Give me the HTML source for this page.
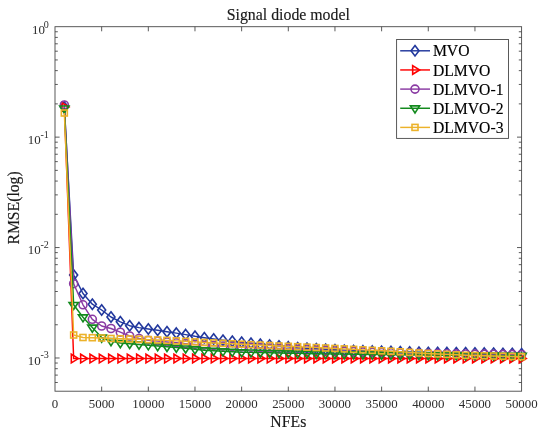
<!DOCTYPE html>
<html><head><meta charset="utf-8"><title>Signal diode model</title>
<style>html,body{margin:0;padding:0;background:#fff}svg{display:block}text{font-family:"Liberation Serif",serif;fill:#1a1a1a;stroke:#1a1a1a;stroke-width:0.15px}text.t{fill:#2e2e2e;stroke:none}</style></head>
<body>
<svg width="550" height="434" viewBox="0 0 550 434">
<rect width="550" height="434" fill="#fff"/>
<rect x="55.0" y="26.7" width="466.60" height="364.50" fill="none" stroke="#484848" stroke-width="0.9"/>
<text x="55.00" y="408.0" font-size="12.9" class="t" text-anchor="middle">0</text>
<text x="101.66" y="408.0" font-size="12.9" class="t" text-anchor="middle">5000</text>
<text x="148.32" y="408.0" font-size="12.9" class="t" text-anchor="middle">10000</text>
<text x="194.98" y="408.0" font-size="12.9" class="t" text-anchor="middle">15000</text>
<text x="241.64" y="408.0" font-size="12.9" class="t" text-anchor="middle">20000</text>
<text x="288.30" y="408.0" font-size="12.9" class="t" text-anchor="middle">25000</text>
<text x="334.96" y="408.0" font-size="12.9" class="t" text-anchor="middle">30000</text>
<text x="381.62" y="408.0" font-size="12.9" class="t" text-anchor="middle">35000</text>
<text x="428.28" y="408.0" font-size="12.9" class="t" text-anchor="middle">40000</text>
<text x="474.94" y="408.0" font-size="12.9" class="t" text-anchor="middle">45000</text>
<text x="521.60" y="408.0" font-size="12.9" class="t" text-anchor="middle">50000</text>
<text class="t" text-anchor="end"><tspan x="44.9" y="33.60" font-size="12.9">10</tspan><tspan x="48.9" y="28.00" font-size="10.1">0</tspan></text>
<text class="t" text-anchor="end"><tspan x="40.6" y="144.03" font-size="12.9">10</tspan><tspan x="48.9" y="138.13" font-size="10.1">-1</tspan></text>
<text class="t" text-anchor="end"><tspan x="40.6" y="253.76" font-size="12.9">10</tspan><tspan x="48.9" y="248.16" font-size="10.1">-2</tspan></text>
<text class="t" text-anchor="end"><tspan x="40.6" y="364.79" font-size="12.9">10</tspan><tspan x="48.9" y="358.19" font-size="10.1">-3</tspan></text>
<path d="M101.66 391.2v-4.6M101.66 26.7v4.6M148.32 391.2v-4.6M148.32 26.7v4.6M194.98 391.2v-4.6M194.98 26.7v4.6M241.64 391.2v-4.6M241.64 26.7v4.6M288.30 391.2v-4.6M288.30 26.7v4.6M334.96 391.2v-4.6M334.96 26.7v4.6M381.62 391.2v-4.6M381.62 26.7v4.6M428.28 391.2v-4.6M428.28 26.7v4.6M474.94 391.2v-4.6M474.94 26.7v4.6M55.0 103.89h2.8M521.6 103.89h-2.8M55.0 84.44h2.8M521.6 84.44h-2.8M55.0 70.64h2.8M521.6 70.64h-2.8M55.0 59.94h2.8M521.6 59.94h-2.8M55.0 51.20h2.8M521.6 51.20h-2.8M55.0 43.81h2.8M521.6 43.81h-2.8M55.0 37.40h2.8M521.6 37.40h-2.8M55.0 31.75h2.8M521.6 31.75h-2.8M55.0 137.13h4.6M521.6 137.13h-4.6M55.0 214.32h2.8M521.6 214.32h-2.8M55.0 194.87h2.8M521.6 194.87h-2.8M55.0 181.07h2.8M521.6 181.07h-2.8M55.0 170.37h2.8M521.6 170.37h-2.8M55.0 161.63h2.8M521.6 161.63h-2.8M55.0 154.24h2.8M521.6 154.24h-2.8M55.0 147.83h2.8M521.6 147.83h-2.8M55.0 142.18h2.8M521.6 142.18h-2.8M55.0 247.56h4.6M521.6 247.56h-4.6M55.0 324.75h2.8M521.6 324.75h-2.8M55.0 305.30h2.8M521.6 305.30h-2.8M55.0 291.50h2.8M521.6 291.50h-2.8M55.0 280.80h2.8M521.6 280.80h-2.8M55.0 272.06h2.8M521.6 272.06h-2.8M55.0 264.67h2.8M521.6 264.67h-2.8M55.0 258.26h2.8M521.6 258.26h-2.8M55.0 252.61h2.8M521.6 252.61h-2.8M55.0 357.99h4.6M521.6 357.99h-4.6M55.0 382.49h2.8M521.6 382.49h-2.8M55.0 375.10h2.8M521.6 375.10h-2.8M55.0 368.69h2.8M521.6 368.69h-2.8M55.0 363.04h2.8M521.6 363.04h-2.8" stroke="#484848" stroke-width="0.9" fill="none"/>
<text x="288.30" y="19.8" font-size="15.85" text-anchor="middle">Signal diode model</text>
<text x="288.30" y="426.6" font-size="15.8" text-anchor="middle">NFEs</text>
<text transform="translate(18.5 207.95) rotate(-90)" font-size="15.7" text-anchor="middle">RMSE(log)</text>
<g><polyline points="64.33,107.10 73.66,275.00 83.00,293.50 92.33,304.20 101.66,310.00 110.99,317.00 120.32,321.80 129.66,325.70 138.99,327.60 148.32,329.00 157.65,330.30 166.98,331.70 176.32,333.10 185.65,334.60 194.98,336.30 204.31,337.70 213.64,339.00 222.98,340.20 232.31,341.30 241.64,342.30 250.97,343.23 260.30,344.15 269.64,345.07 278.97,346.00 288.30,346.85 297.63,347.70 306.96,348.20 316.30,348.70 325.63,349.20 334.96,349.70 344.29,350.15 353.62,350.60 362.96,350.84 372.29,351.08 381.62,351.32 390.95,351.56 400.28,351.80 409.62,352.05 418.95,352.30 428.28,352.40 437.61,352.50 446.94,352.60 456.28,352.70 465.61,352.80 474.94,352.95 484.27,353.10 493.60,353.25 502.94,353.40 512.27,353.55 521.60,353.70" fill="none" stroke="#22389d" stroke-width="1.45" stroke-linejoin="round"/>
<path d="M64.33 101.90L68.33 107.10L64.33 112.30L60.33 107.10Z" fill="none" stroke="#22389d" stroke-width="1.5999999999999999" stroke-linejoin="miter"/>
<path d="M73.66 269.80L77.66 275.00L73.66 280.20L69.66 275.00Z" fill="none" stroke="#22389d" stroke-width="1.5999999999999999" stroke-linejoin="miter"/>
<path d="M83.00 288.30L87.00 293.50L83.00 298.70L79.00 293.50Z" fill="none" stroke="#22389d" stroke-width="1.5999999999999999" stroke-linejoin="miter"/>
<path d="M92.33 299.00L96.33 304.20L92.33 309.40L88.33 304.20Z" fill="none" stroke="#22389d" stroke-width="1.5999999999999999" stroke-linejoin="miter"/>
<path d="M101.66 304.80L105.66 310.00L101.66 315.20L97.66 310.00Z" fill="none" stroke="#22389d" stroke-width="1.5999999999999999" stroke-linejoin="miter"/>
<path d="M110.99 311.80L114.99 317.00L110.99 322.20L106.99 317.00Z" fill="none" stroke="#22389d" stroke-width="1.5999999999999999" stroke-linejoin="miter"/>
<path d="M120.32 316.60L124.32 321.80L120.32 327.00L116.32 321.80Z" fill="none" stroke="#22389d" stroke-width="1.5999999999999999" stroke-linejoin="miter"/>
<path d="M129.66 320.50L133.66 325.70L129.66 330.90L125.66 325.70Z" fill="none" stroke="#22389d" stroke-width="1.5999999999999999" stroke-linejoin="miter"/>
<path d="M138.99 322.40L142.99 327.60L138.99 332.80L134.99 327.60Z" fill="none" stroke="#22389d" stroke-width="1.5999999999999999" stroke-linejoin="miter"/>
<path d="M148.32 323.80L152.32 329.00L148.32 334.20L144.32 329.00Z" fill="none" stroke="#22389d" stroke-width="1.5999999999999999" stroke-linejoin="miter"/>
<path d="M157.65 325.10L161.65 330.30L157.65 335.50L153.65 330.30Z" fill="none" stroke="#22389d" stroke-width="1.5999999999999999" stroke-linejoin="miter"/>
<path d="M166.98 326.50L170.98 331.70L166.98 336.90L162.98 331.70Z" fill="none" stroke="#22389d" stroke-width="1.5999999999999999" stroke-linejoin="miter"/>
<path d="M176.32 327.90L180.32 333.10L176.32 338.30L172.32 333.10Z" fill="none" stroke="#22389d" stroke-width="1.5999999999999999" stroke-linejoin="miter"/>
<path d="M185.65 329.40L189.65 334.60L185.65 339.80L181.65 334.60Z" fill="none" stroke="#22389d" stroke-width="1.5999999999999999" stroke-linejoin="miter"/>
<path d="M194.98 331.10L198.98 336.30L194.98 341.50L190.98 336.30Z" fill="none" stroke="#22389d" stroke-width="1.5999999999999999" stroke-linejoin="miter"/>
<path d="M204.31 332.50L208.31 337.70L204.31 342.90L200.31 337.70Z" fill="none" stroke="#22389d" stroke-width="1.5999999999999999" stroke-linejoin="miter"/>
<path d="M213.64 333.80L217.64 339.00L213.64 344.20L209.64 339.00Z" fill="none" stroke="#22389d" stroke-width="1.5999999999999999" stroke-linejoin="miter"/>
<path d="M222.98 335.00L226.98 340.20L222.98 345.40L218.98 340.20Z" fill="none" stroke="#22389d" stroke-width="1.5999999999999999" stroke-linejoin="miter"/>
<path d="M232.31 336.10L236.31 341.30L232.31 346.50L228.31 341.30Z" fill="none" stroke="#22389d" stroke-width="1.5999999999999999" stroke-linejoin="miter"/>
<path d="M241.64 337.10L245.64 342.30L241.64 347.50L237.64 342.30Z" fill="none" stroke="#22389d" stroke-width="1.5999999999999999" stroke-linejoin="miter"/>
<path d="M250.97 338.03L254.97 343.23L250.97 348.43L246.97 343.23Z" fill="none" stroke="#22389d" stroke-width="1.5999999999999999" stroke-linejoin="miter"/>
<path d="M260.30 338.95L264.30 344.15L260.30 349.35L256.30 344.15Z" fill="none" stroke="#22389d" stroke-width="1.5999999999999999" stroke-linejoin="miter"/>
<path d="M269.64 339.88L273.64 345.07L269.64 350.27L265.64 345.07Z" fill="none" stroke="#22389d" stroke-width="1.5999999999999999" stroke-linejoin="miter"/>
<path d="M278.97 340.80L282.97 346.00L278.97 351.20L274.97 346.00Z" fill="none" stroke="#22389d" stroke-width="1.5999999999999999" stroke-linejoin="miter"/>
<path d="M288.30 341.65L292.30 346.85L288.30 352.05L284.30 346.85Z" fill="none" stroke="#22389d" stroke-width="1.5999999999999999" stroke-linejoin="miter"/>
<path d="M297.63 342.50L301.63 347.70L297.63 352.90L293.63 347.70Z" fill="none" stroke="#22389d" stroke-width="1.5999999999999999" stroke-linejoin="miter"/>
<path d="M306.96 343.00L310.96 348.20L306.96 353.40L302.96 348.20Z" fill="none" stroke="#22389d" stroke-width="1.5999999999999999" stroke-linejoin="miter"/>
<path d="M316.30 343.50L320.30 348.70L316.30 353.90L312.30 348.70Z" fill="none" stroke="#22389d" stroke-width="1.5999999999999999" stroke-linejoin="miter"/>
<path d="M325.63 344.00L329.63 349.20L325.63 354.40L321.63 349.20Z" fill="none" stroke="#22389d" stroke-width="1.5999999999999999" stroke-linejoin="miter"/>
<path d="M334.96 344.50L338.96 349.70L334.96 354.90L330.96 349.70Z" fill="none" stroke="#22389d" stroke-width="1.5999999999999999" stroke-linejoin="miter"/>
<path d="M344.29 344.95L348.29 350.15L344.29 355.35L340.29 350.15Z" fill="none" stroke="#22389d" stroke-width="1.5999999999999999" stroke-linejoin="miter"/>
<path d="M353.62 345.40L357.62 350.60L353.62 355.80L349.62 350.60Z" fill="none" stroke="#22389d" stroke-width="1.5999999999999999" stroke-linejoin="miter"/>
<path d="M362.96 345.64L366.96 350.84L362.96 356.04L358.96 350.84Z" fill="none" stroke="#22389d" stroke-width="1.5999999999999999" stroke-linejoin="miter"/>
<path d="M372.29 345.88L376.29 351.08L372.29 356.28L368.29 351.08Z" fill="none" stroke="#22389d" stroke-width="1.5999999999999999" stroke-linejoin="miter"/>
<path d="M381.62 346.12L385.62 351.32L381.62 356.52L377.62 351.32Z" fill="none" stroke="#22389d" stroke-width="1.5999999999999999" stroke-linejoin="miter"/>
<path d="M390.95 346.36L394.95 351.56L390.95 356.76L386.95 351.56Z" fill="none" stroke="#22389d" stroke-width="1.5999999999999999" stroke-linejoin="miter"/>
<path d="M400.28 346.60L404.28 351.80L400.28 357.00L396.28 351.80Z" fill="none" stroke="#22389d" stroke-width="1.5999999999999999" stroke-linejoin="miter"/>
<path d="M409.62 346.85L413.62 352.05L409.62 357.25L405.62 352.05Z" fill="none" stroke="#22389d" stroke-width="1.5999999999999999" stroke-linejoin="miter"/>
<path d="M418.95 347.10L422.95 352.30L418.95 357.50L414.95 352.30Z" fill="none" stroke="#22389d" stroke-width="1.5999999999999999" stroke-linejoin="miter"/>
<path d="M428.28 347.20L432.28 352.40L428.28 357.60L424.28 352.40Z" fill="none" stroke="#22389d" stroke-width="1.5999999999999999" stroke-linejoin="miter"/>
<path d="M437.61 347.30L441.61 352.50L437.61 357.70L433.61 352.50Z" fill="none" stroke="#22389d" stroke-width="1.5999999999999999" stroke-linejoin="miter"/>
<path d="M446.94 347.40L450.94 352.60L446.94 357.80L442.94 352.60Z" fill="none" stroke="#22389d" stroke-width="1.5999999999999999" stroke-linejoin="miter"/>
<path d="M456.28 347.50L460.28 352.70L456.28 357.90L452.28 352.70Z" fill="none" stroke="#22389d" stroke-width="1.5999999999999999" stroke-linejoin="miter"/>
<path d="M465.61 347.60L469.61 352.80L465.61 358.00L461.61 352.80Z" fill="none" stroke="#22389d" stroke-width="1.5999999999999999" stroke-linejoin="miter"/>
<path d="M474.94 347.75L478.94 352.95L474.94 358.15L470.94 352.95Z" fill="none" stroke="#22389d" stroke-width="1.5999999999999999" stroke-linejoin="miter"/>
<path d="M484.27 347.90L488.27 353.10L484.27 358.30L480.27 353.10Z" fill="none" stroke="#22389d" stroke-width="1.5999999999999999" stroke-linejoin="miter"/>
<path d="M493.60 348.05L497.60 353.25L493.60 358.45L489.60 353.25Z" fill="none" stroke="#22389d" stroke-width="1.5999999999999999" stroke-linejoin="miter"/>
<path d="M502.94 348.20L506.94 353.40L502.94 358.60L498.94 353.40Z" fill="none" stroke="#22389d" stroke-width="1.5999999999999999" stroke-linejoin="miter"/>
<path d="M512.27 348.35L516.27 353.55L512.27 358.75L508.27 353.55Z" fill="none" stroke="#22389d" stroke-width="1.5999999999999999" stroke-linejoin="miter"/>
<path d="M521.60 348.50L525.60 353.70L521.60 358.90L517.60 353.70Z" fill="none" stroke="#22389d" stroke-width="1.5999999999999999" stroke-linejoin="miter"/>
</g>
<g><polyline points="64.33,107.00 73.66,358.60 83.00,358.60 92.33,358.59 101.66,358.59 110.99,358.58 120.32,358.58 129.66,358.58 138.99,358.57 148.32,358.57 157.65,358.56 166.98,358.56 176.32,358.55 185.65,358.55 194.98,358.55 204.31,358.54 213.64,358.54 222.98,358.53 232.31,358.53 241.64,358.52 250.97,358.52 260.30,358.52 269.64,358.51 278.97,358.51 288.30,358.50 297.63,358.50 306.96,358.50 316.30,358.49 325.63,358.49 334.96,358.48 344.29,358.48 353.62,358.48 362.96,358.47 372.29,358.47 381.62,358.46 390.95,358.46 400.28,358.45 409.62,358.45 418.95,358.45 428.28,358.44 437.61,358.44 446.94,358.43 456.28,358.43 465.61,358.42 474.94,358.42 484.27,358.42 493.60,358.41 502.94,358.41 512.27,358.40 521.60,358.40" fill="none" stroke="#ff0000" stroke-width="1.45" stroke-linejoin="round"/>
<path d="M62.00 102.70L69.00 107.00L62.00 111.30Z" fill="none" stroke="#ff0000" stroke-width="1.5999999999999999" stroke-linejoin="miter"/>
<path d="M71.33 354.30L78.33 358.60L71.33 362.90Z" fill="none" stroke="#ff0000" stroke-width="1.5999999999999999" stroke-linejoin="miter"/>
<path d="M80.66 354.30L87.66 358.60L80.66 362.90Z" fill="none" stroke="#ff0000" stroke-width="1.5999999999999999" stroke-linejoin="miter"/>
<path d="M89.99 354.29L96.99 358.59L89.99 362.89Z" fill="none" stroke="#ff0000" stroke-width="1.5999999999999999" stroke-linejoin="miter"/>
<path d="M99.33 354.29L106.33 358.59L99.33 362.89Z" fill="none" stroke="#ff0000" stroke-width="1.5999999999999999" stroke-linejoin="miter"/>
<path d="M108.66 354.28L115.66 358.58L108.66 362.88Z" fill="none" stroke="#ff0000" stroke-width="1.5999999999999999" stroke-linejoin="miter"/>
<path d="M117.99 354.28L124.99 358.58L117.99 362.88Z" fill="none" stroke="#ff0000" stroke-width="1.5999999999999999" stroke-linejoin="miter"/>
<path d="M127.32 354.28L134.32 358.58L127.32 362.88Z" fill="none" stroke="#ff0000" stroke-width="1.5999999999999999" stroke-linejoin="miter"/>
<path d="M136.65 354.27L143.65 358.57L136.65 362.87Z" fill="none" stroke="#ff0000" stroke-width="1.5999999999999999" stroke-linejoin="miter"/>
<path d="M145.99 354.27L152.99 358.57L145.99 362.87Z" fill="none" stroke="#ff0000" stroke-width="1.5999999999999999" stroke-linejoin="miter"/>
<path d="M155.32 354.26L162.32 358.56L155.32 362.86Z" fill="none" stroke="#ff0000" stroke-width="1.5999999999999999" stroke-linejoin="miter"/>
<path d="M164.65 354.26L171.65 358.56L164.65 362.86Z" fill="none" stroke="#ff0000" stroke-width="1.5999999999999999" stroke-linejoin="miter"/>
<path d="M173.98 354.25L180.98 358.55L173.98 362.85Z" fill="none" stroke="#ff0000" stroke-width="1.5999999999999999" stroke-linejoin="miter"/>
<path d="M183.31 354.25L190.31 358.55L183.31 362.85Z" fill="none" stroke="#ff0000" stroke-width="1.5999999999999999" stroke-linejoin="miter"/>
<path d="M192.65 354.25L199.65 358.55L192.65 362.85Z" fill="none" stroke="#ff0000" stroke-width="1.5999999999999999" stroke-linejoin="miter"/>
<path d="M201.98 354.24L208.98 358.54L201.98 362.84Z" fill="none" stroke="#ff0000" stroke-width="1.5999999999999999" stroke-linejoin="miter"/>
<path d="M211.31 354.24L218.31 358.54L211.31 362.84Z" fill="none" stroke="#ff0000" stroke-width="1.5999999999999999" stroke-linejoin="miter"/>
<path d="M220.64 354.23L227.64 358.53L220.64 362.83Z" fill="none" stroke="#ff0000" stroke-width="1.5999999999999999" stroke-linejoin="miter"/>
<path d="M229.97 354.23L236.97 358.53L229.97 362.83Z" fill="none" stroke="#ff0000" stroke-width="1.5999999999999999" stroke-linejoin="miter"/>
<path d="M239.31 354.22L246.31 358.52L239.31 362.82Z" fill="none" stroke="#ff0000" stroke-width="1.5999999999999999" stroke-linejoin="miter"/>
<path d="M248.64 354.22L255.64 358.52L248.64 362.82Z" fill="none" stroke="#ff0000" stroke-width="1.5999999999999999" stroke-linejoin="miter"/>
<path d="M257.97 354.22L264.97 358.52L257.97 362.82Z" fill="none" stroke="#ff0000" stroke-width="1.5999999999999999" stroke-linejoin="miter"/>
<path d="M267.30 354.21L274.30 358.51L267.30 362.81Z" fill="none" stroke="#ff0000" stroke-width="1.5999999999999999" stroke-linejoin="miter"/>
<path d="M276.63 354.21L283.63 358.51L276.63 362.81Z" fill="none" stroke="#ff0000" stroke-width="1.5999999999999999" stroke-linejoin="miter"/>
<path d="M285.97 354.20L292.97 358.50L285.97 362.80Z" fill="none" stroke="#ff0000" stroke-width="1.5999999999999999" stroke-linejoin="miter"/>
<path d="M295.30 354.20L302.30 358.50L295.30 362.80Z" fill="none" stroke="#ff0000" stroke-width="1.5999999999999999" stroke-linejoin="miter"/>
<path d="M304.63 354.20L311.63 358.50L304.63 362.80Z" fill="none" stroke="#ff0000" stroke-width="1.5999999999999999" stroke-linejoin="miter"/>
<path d="M313.96 354.19L320.96 358.49L313.96 362.79Z" fill="none" stroke="#ff0000" stroke-width="1.5999999999999999" stroke-linejoin="miter"/>
<path d="M323.29 354.19L330.29 358.49L323.29 362.79Z" fill="none" stroke="#ff0000" stroke-width="1.5999999999999999" stroke-linejoin="miter"/>
<path d="M332.63 354.18L339.63 358.48L332.63 362.78Z" fill="none" stroke="#ff0000" stroke-width="1.5999999999999999" stroke-linejoin="miter"/>
<path d="M341.96 354.18L348.96 358.48L341.96 362.78Z" fill="none" stroke="#ff0000" stroke-width="1.5999999999999999" stroke-linejoin="miter"/>
<path d="M351.29 354.18L358.29 358.48L351.29 362.78Z" fill="none" stroke="#ff0000" stroke-width="1.5999999999999999" stroke-linejoin="miter"/>
<path d="M360.62 354.17L367.62 358.47L360.62 362.77Z" fill="none" stroke="#ff0000" stroke-width="1.5999999999999999" stroke-linejoin="miter"/>
<path d="M369.95 354.17L376.95 358.47L369.95 362.77Z" fill="none" stroke="#ff0000" stroke-width="1.5999999999999999" stroke-linejoin="miter"/>
<path d="M379.29 354.16L386.29 358.46L379.29 362.76Z" fill="none" stroke="#ff0000" stroke-width="1.5999999999999999" stroke-linejoin="miter"/>
<path d="M388.62 354.16L395.62 358.46L388.62 362.76Z" fill="none" stroke="#ff0000" stroke-width="1.5999999999999999" stroke-linejoin="miter"/>
<path d="M397.95 354.15L404.95 358.45L397.95 362.75Z" fill="none" stroke="#ff0000" stroke-width="1.5999999999999999" stroke-linejoin="miter"/>
<path d="M407.28 354.15L414.28 358.45L407.28 362.75Z" fill="none" stroke="#ff0000" stroke-width="1.5999999999999999" stroke-linejoin="miter"/>
<path d="M416.61 354.15L423.61 358.45L416.61 362.75Z" fill="none" stroke="#ff0000" stroke-width="1.5999999999999999" stroke-linejoin="miter"/>
<path d="M425.95 354.14L432.95 358.44L425.95 362.74Z" fill="none" stroke="#ff0000" stroke-width="1.5999999999999999" stroke-linejoin="miter"/>
<path d="M435.28 354.14L442.28 358.44L435.28 362.74Z" fill="none" stroke="#ff0000" stroke-width="1.5999999999999999" stroke-linejoin="miter"/>
<path d="M444.61 354.13L451.61 358.43L444.61 362.73Z" fill="none" stroke="#ff0000" stroke-width="1.5999999999999999" stroke-linejoin="miter"/>
<path d="M453.94 354.13L460.94 358.43L453.94 362.73Z" fill="none" stroke="#ff0000" stroke-width="1.5999999999999999" stroke-linejoin="miter"/>
<path d="M463.27 354.12L470.27 358.42L463.27 362.72Z" fill="none" stroke="#ff0000" stroke-width="1.5999999999999999" stroke-linejoin="miter"/>
<path d="M472.61 354.12L479.61 358.42L472.61 362.72Z" fill="none" stroke="#ff0000" stroke-width="1.5999999999999999" stroke-linejoin="miter"/>
<path d="M481.94 354.12L488.94 358.42L481.94 362.72Z" fill="none" stroke="#ff0000" stroke-width="1.5999999999999999" stroke-linejoin="miter"/>
<path d="M491.27 354.11L498.27 358.41L491.27 362.71Z" fill="none" stroke="#ff0000" stroke-width="1.5999999999999999" stroke-linejoin="miter"/>
<path d="M500.60 354.11L507.60 358.41L500.60 362.71Z" fill="none" stroke="#ff0000" stroke-width="1.5999999999999999" stroke-linejoin="miter"/>
<path d="M509.93 354.10L516.93 358.40L509.93 362.70Z" fill="none" stroke="#ff0000" stroke-width="1.5999999999999999" stroke-linejoin="miter"/>
<path d="M519.27 354.10L526.27 358.40L519.27 362.70Z" fill="none" stroke="#ff0000" stroke-width="1.5999999999999999" stroke-linejoin="miter"/>
</g>
<g><polyline points="64.33,105.00 73.66,283.70 83.00,304.80 92.33,319.30 101.66,326.00 110.99,328.50 120.32,332.20 129.66,336.00 138.99,338.50 148.32,340.20 157.65,341.10 166.98,342.00 176.32,342.80 185.65,343.60 194.98,344.40 204.31,345.20 213.64,345.65 222.98,346.10 232.31,346.55 241.64,347.00 250.97,347.38 260.30,347.75 269.64,348.12 278.97,348.50 288.30,348.92 297.63,349.33 306.96,349.75 316.30,350.17 325.63,350.58 334.96,351.00 344.29,351.29 353.62,351.57 362.96,351.86 372.29,352.14 381.62,352.43 390.95,352.71 400.28,353.00 409.62,353.14 418.95,353.29 428.28,353.43 437.61,353.57 446.94,353.71 456.28,353.86 465.61,354.00 474.94,354.08 484.27,354.17 493.60,354.25 502.94,354.33 512.27,354.42 521.60,354.50" fill="none" stroke="#8a3aa3" stroke-width="1.45" stroke-linejoin="round"/>
<circle cx="64.33" cy="105.00" r="4.0" fill="none" stroke="#8a3aa3" stroke-width="1.5999999999999999" stroke-linejoin="miter"/>
<circle cx="73.66" cy="283.70" r="4.0" fill="none" stroke="#8a3aa3" stroke-width="1.5999999999999999" stroke-linejoin="miter"/>
<circle cx="83.00" cy="304.80" r="4.0" fill="none" stroke="#8a3aa3" stroke-width="1.5999999999999999" stroke-linejoin="miter"/>
<circle cx="92.33" cy="319.30" r="4.0" fill="none" stroke="#8a3aa3" stroke-width="1.5999999999999999" stroke-linejoin="miter"/>
<circle cx="101.66" cy="326.00" r="4.0" fill="none" stroke="#8a3aa3" stroke-width="1.5999999999999999" stroke-linejoin="miter"/>
<circle cx="110.99" cy="328.50" r="4.0" fill="none" stroke="#8a3aa3" stroke-width="1.5999999999999999" stroke-linejoin="miter"/>
<circle cx="120.32" cy="332.20" r="4.0" fill="none" stroke="#8a3aa3" stroke-width="1.5999999999999999" stroke-linejoin="miter"/>
<circle cx="129.66" cy="336.00" r="4.0" fill="none" stroke="#8a3aa3" stroke-width="1.5999999999999999" stroke-linejoin="miter"/>
<circle cx="138.99" cy="338.50" r="4.0" fill="none" stroke="#8a3aa3" stroke-width="1.5999999999999999" stroke-linejoin="miter"/>
<circle cx="148.32" cy="340.20" r="4.0" fill="none" stroke="#8a3aa3" stroke-width="1.5999999999999999" stroke-linejoin="miter"/>
<circle cx="157.65" cy="341.10" r="4.0" fill="none" stroke="#8a3aa3" stroke-width="1.5999999999999999" stroke-linejoin="miter"/>
<circle cx="166.98" cy="342.00" r="4.0" fill="none" stroke="#8a3aa3" stroke-width="1.5999999999999999" stroke-linejoin="miter"/>
<circle cx="176.32" cy="342.80" r="4.0" fill="none" stroke="#8a3aa3" stroke-width="1.5999999999999999" stroke-linejoin="miter"/>
<circle cx="185.65" cy="343.60" r="4.0" fill="none" stroke="#8a3aa3" stroke-width="1.5999999999999999" stroke-linejoin="miter"/>
<circle cx="194.98" cy="344.40" r="4.0" fill="none" stroke="#8a3aa3" stroke-width="1.5999999999999999" stroke-linejoin="miter"/>
<circle cx="204.31" cy="345.20" r="4.0" fill="none" stroke="#8a3aa3" stroke-width="1.5999999999999999" stroke-linejoin="miter"/>
<circle cx="213.64" cy="345.65" r="4.0" fill="none" stroke="#8a3aa3" stroke-width="1.5999999999999999" stroke-linejoin="miter"/>
<circle cx="222.98" cy="346.10" r="4.0" fill="none" stroke="#8a3aa3" stroke-width="1.5999999999999999" stroke-linejoin="miter"/>
<circle cx="232.31" cy="346.55" r="4.0" fill="none" stroke="#8a3aa3" stroke-width="1.5999999999999999" stroke-linejoin="miter"/>
<circle cx="241.64" cy="347.00" r="4.0" fill="none" stroke="#8a3aa3" stroke-width="1.5999999999999999" stroke-linejoin="miter"/>
<circle cx="250.97" cy="347.38" r="4.0" fill="none" stroke="#8a3aa3" stroke-width="1.5999999999999999" stroke-linejoin="miter"/>
<circle cx="260.30" cy="347.75" r="4.0" fill="none" stroke="#8a3aa3" stroke-width="1.5999999999999999" stroke-linejoin="miter"/>
<circle cx="269.64" cy="348.12" r="4.0" fill="none" stroke="#8a3aa3" stroke-width="1.5999999999999999" stroke-linejoin="miter"/>
<circle cx="278.97" cy="348.50" r="4.0" fill="none" stroke="#8a3aa3" stroke-width="1.5999999999999999" stroke-linejoin="miter"/>
<circle cx="288.30" cy="348.92" r="4.0" fill="none" stroke="#8a3aa3" stroke-width="1.5999999999999999" stroke-linejoin="miter"/>
<circle cx="297.63" cy="349.33" r="4.0" fill="none" stroke="#8a3aa3" stroke-width="1.5999999999999999" stroke-linejoin="miter"/>
<circle cx="306.96" cy="349.75" r="4.0" fill="none" stroke="#8a3aa3" stroke-width="1.5999999999999999" stroke-linejoin="miter"/>
<circle cx="316.30" cy="350.17" r="4.0" fill="none" stroke="#8a3aa3" stroke-width="1.5999999999999999" stroke-linejoin="miter"/>
<circle cx="325.63" cy="350.58" r="4.0" fill="none" stroke="#8a3aa3" stroke-width="1.5999999999999999" stroke-linejoin="miter"/>
<circle cx="334.96" cy="351.00" r="4.0" fill="none" stroke="#8a3aa3" stroke-width="1.5999999999999999" stroke-linejoin="miter"/>
<circle cx="344.29" cy="351.29" r="4.0" fill="none" stroke="#8a3aa3" stroke-width="1.5999999999999999" stroke-linejoin="miter"/>
<circle cx="353.62" cy="351.57" r="4.0" fill="none" stroke="#8a3aa3" stroke-width="1.5999999999999999" stroke-linejoin="miter"/>
<circle cx="362.96" cy="351.86" r="4.0" fill="none" stroke="#8a3aa3" stroke-width="1.5999999999999999" stroke-linejoin="miter"/>
<circle cx="372.29" cy="352.14" r="4.0" fill="none" stroke="#8a3aa3" stroke-width="1.5999999999999999" stroke-linejoin="miter"/>
<circle cx="381.62" cy="352.43" r="4.0" fill="none" stroke="#8a3aa3" stroke-width="1.5999999999999999" stroke-linejoin="miter"/>
<circle cx="390.95" cy="352.71" r="4.0" fill="none" stroke="#8a3aa3" stroke-width="1.5999999999999999" stroke-linejoin="miter"/>
<circle cx="400.28" cy="353.00" r="4.0" fill="none" stroke="#8a3aa3" stroke-width="1.5999999999999999" stroke-linejoin="miter"/>
<circle cx="409.62" cy="353.14" r="4.0" fill="none" stroke="#8a3aa3" stroke-width="1.5999999999999999" stroke-linejoin="miter"/>
<circle cx="418.95" cy="353.29" r="4.0" fill="none" stroke="#8a3aa3" stroke-width="1.5999999999999999" stroke-linejoin="miter"/>
<circle cx="428.28" cy="353.43" r="4.0" fill="none" stroke="#8a3aa3" stroke-width="1.5999999999999999" stroke-linejoin="miter"/>
<circle cx="437.61" cy="353.57" r="4.0" fill="none" stroke="#8a3aa3" stroke-width="1.5999999999999999" stroke-linejoin="miter"/>
<circle cx="446.94" cy="353.71" r="4.0" fill="none" stroke="#8a3aa3" stroke-width="1.5999999999999999" stroke-linejoin="miter"/>
<circle cx="456.28" cy="353.86" r="4.0" fill="none" stroke="#8a3aa3" stroke-width="1.5999999999999999" stroke-linejoin="miter"/>
<circle cx="465.61" cy="354.00" r="4.0" fill="none" stroke="#8a3aa3" stroke-width="1.5999999999999999" stroke-linejoin="miter"/>
<circle cx="474.94" cy="354.08" r="4.0" fill="none" stroke="#8a3aa3" stroke-width="1.5999999999999999" stroke-linejoin="miter"/>
<circle cx="484.27" cy="354.17" r="4.0" fill="none" stroke="#8a3aa3" stroke-width="1.5999999999999999" stroke-linejoin="miter"/>
<circle cx="493.60" cy="354.25" r="4.0" fill="none" stroke="#8a3aa3" stroke-width="1.5999999999999999" stroke-linejoin="miter"/>
<circle cx="502.94" cy="354.33" r="4.0" fill="none" stroke="#8a3aa3" stroke-width="1.5999999999999999" stroke-linejoin="miter"/>
<circle cx="512.27" cy="354.42" r="4.0" fill="none" stroke="#8a3aa3" stroke-width="1.5999999999999999" stroke-linejoin="miter"/>
<circle cx="521.60" cy="354.50" r="4.0" fill="none" stroke="#8a3aa3" stroke-width="1.5999999999999999" stroke-linejoin="miter"/>
</g>
<g><polyline points="64.33,108.40 73.66,304.80 83.00,317.20 92.33,327.50 101.66,337.50 110.99,341.00 120.32,343.00 129.66,343.80 138.99,344.50 148.32,345.20 157.65,346.00 166.98,346.80 176.32,347.55 185.65,348.30 194.98,349.25 204.31,350.20 213.64,350.70 222.98,351.20 232.31,351.70 241.64,352.20 250.97,352.40 260.30,352.60 269.64,352.80 278.97,353.00 288.30,353.20 297.63,353.40 306.96,353.60 316.30,353.80 325.63,353.90 334.96,354.00 344.29,354.11 353.62,354.23 362.96,354.34 372.29,354.46 381.62,354.57 390.95,354.69 400.28,354.80 409.62,354.87 418.95,354.94 428.28,355.01 437.61,355.09 446.94,355.16 456.28,355.23 465.61,355.30 474.94,355.37 484.27,355.43 493.60,355.50 502.94,355.57 512.27,355.63 521.60,355.70" fill="none" stroke="#138a1e" stroke-width="1.45" stroke-linejoin="round"/>
<path d="M59.73 106.07L68.93 106.07L64.33 113.07Z" fill="none" stroke="#138a1e" stroke-width="1.5999999999999999" stroke-linejoin="miter"/>
<path d="M69.06 302.47L78.26 302.47L73.66 309.47Z" fill="none" stroke="#138a1e" stroke-width="1.5999999999999999" stroke-linejoin="miter"/>
<path d="M78.40 314.87L87.60 314.87L83.00 321.87Z" fill="none" stroke="#138a1e" stroke-width="1.5999999999999999" stroke-linejoin="miter"/>
<path d="M87.73 325.17L96.93 325.17L92.33 332.17Z" fill="none" stroke="#138a1e" stroke-width="1.5999999999999999" stroke-linejoin="miter"/>
<path d="M97.06 335.17L106.26 335.17L101.66 342.17Z" fill="none" stroke="#138a1e" stroke-width="1.5999999999999999" stroke-linejoin="miter"/>
<path d="M106.39 338.67L115.59 338.67L110.99 345.67Z" fill="none" stroke="#138a1e" stroke-width="1.5999999999999999" stroke-linejoin="miter"/>
<path d="M115.72 340.67L124.92 340.67L120.32 347.67Z" fill="none" stroke="#138a1e" stroke-width="1.5999999999999999" stroke-linejoin="miter"/>
<path d="M125.06 341.47L134.26 341.47L129.66 348.47Z" fill="none" stroke="#138a1e" stroke-width="1.5999999999999999" stroke-linejoin="miter"/>
<path d="M134.39 342.17L143.59 342.17L138.99 349.17Z" fill="none" stroke="#138a1e" stroke-width="1.5999999999999999" stroke-linejoin="miter"/>
<path d="M143.72 342.87L152.92 342.87L148.32 349.87Z" fill="none" stroke="#138a1e" stroke-width="1.5999999999999999" stroke-linejoin="miter"/>
<path d="M153.05 343.67L162.25 343.67L157.65 350.67Z" fill="none" stroke="#138a1e" stroke-width="1.5999999999999999" stroke-linejoin="miter"/>
<path d="M162.38 344.47L171.58 344.47L166.98 351.47Z" fill="none" stroke="#138a1e" stroke-width="1.5999999999999999" stroke-linejoin="miter"/>
<path d="M171.72 345.22L180.92 345.22L176.32 352.22Z" fill="none" stroke="#138a1e" stroke-width="1.5999999999999999" stroke-linejoin="miter"/>
<path d="M181.05 345.97L190.25 345.97L185.65 352.97Z" fill="none" stroke="#138a1e" stroke-width="1.5999999999999999" stroke-linejoin="miter"/>
<path d="M190.38 346.92L199.58 346.92L194.98 353.92Z" fill="none" stroke="#138a1e" stroke-width="1.5999999999999999" stroke-linejoin="miter"/>
<path d="M199.71 347.87L208.91 347.87L204.31 354.87Z" fill="none" stroke="#138a1e" stroke-width="1.5999999999999999" stroke-linejoin="miter"/>
<path d="M209.04 348.37L218.24 348.37L213.64 355.37Z" fill="none" stroke="#138a1e" stroke-width="1.5999999999999999" stroke-linejoin="miter"/>
<path d="M218.38 348.87L227.58 348.87L222.98 355.87Z" fill="none" stroke="#138a1e" stroke-width="1.5999999999999999" stroke-linejoin="miter"/>
<path d="M227.71 349.37L236.91 349.37L232.31 356.37Z" fill="none" stroke="#138a1e" stroke-width="1.5999999999999999" stroke-linejoin="miter"/>
<path d="M237.04 349.87L246.24 349.87L241.64 356.87Z" fill="none" stroke="#138a1e" stroke-width="1.5999999999999999" stroke-linejoin="miter"/>
<path d="M246.37 350.07L255.57 350.07L250.97 357.07Z" fill="none" stroke="#138a1e" stroke-width="1.5999999999999999" stroke-linejoin="miter"/>
<path d="M255.70 350.27L264.90 350.27L260.30 357.27Z" fill="none" stroke="#138a1e" stroke-width="1.5999999999999999" stroke-linejoin="miter"/>
<path d="M265.04 350.47L274.24 350.47L269.64 357.47Z" fill="none" stroke="#138a1e" stroke-width="1.5999999999999999" stroke-linejoin="miter"/>
<path d="M274.37 350.67L283.57 350.67L278.97 357.67Z" fill="none" stroke="#138a1e" stroke-width="1.5999999999999999" stroke-linejoin="miter"/>
<path d="M283.70 350.87L292.90 350.87L288.30 357.87Z" fill="none" stroke="#138a1e" stroke-width="1.5999999999999999" stroke-linejoin="miter"/>
<path d="M293.03 351.07L302.23 351.07L297.63 358.07Z" fill="none" stroke="#138a1e" stroke-width="1.5999999999999999" stroke-linejoin="miter"/>
<path d="M302.36 351.27L311.56 351.27L306.96 358.27Z" fill="none" stroke="#138a1e" stroke-width="1.5999999999999999" stroke-linejoin="miter"/>
<path d="M311.70 351.47L320.90 351.47L316.30 358.47Z" fill="none" stroke="#138a1e" stroke-width="1.5999999999999999" stroke-linejoin="miter"/>
<path d="M321.03 351.57L330.23 351.57L325.63 358.57Z" fill="none" stroke="#138a1e" stroke-width="1.5999999999999999" stroke-linejoin="miter"/>
<path d="M330.36 351.67L339.56 351.67L334.96 358.67Z" fill="none" stroke="#138a1e" stroke-width="1.5999999999999999" stroke-linejoin="miter"/>
<path d="M339.69 351.78L348.89 351.78L344.29 358.78Z" fill="none" stroke="#138a1e" stroke-width="1.5999999999999999" stroke-linejoin="miter"/>
<path d="M349.02 351.90L358.22 351.90L353.62 358.90Z" fill="none" stroke="#138a1e" stroke-width="1.5999999999999999" stroke-linejoin="miter"/>
<path d="M358.36 352.01L367.56 352.01L362.96 359.01Z" fill="none" stroke="#138a1e" stroke-width="1.5999999999999999" stroke-linejoin="miter"/>
<path d="M367.69 352.12L376.89 352.12L372.29 359.12Z" fill="none" stroke="#138a1e" stroke-width="1.5999999999999999" stroke-linejoin="miter"/>
<path d="M377.02 352.24L386.22 352.24L381.62 359.24Z" fill="none" stroke="#138a1e" stroke-width="1.5999999999999999" stroke-linejoin="miter"/>
<path d="M386.35 352.35L395.55 352.35L390.95 359.35Z" fill="none" stroke="#138a1e" stroke-width="1.5999999999999999" stroke-linejoin="miter"/>
<path d="M395.68 352.47L404.88 352.47L400.28 359.47Z" fill="none" stroke="#138a1e" stroke-width="1.5999999999999999" stroke-linejoin="miter"/>
<path d="M405.02 352.54L414.22 352.54L409.62 359.54Z" fill="none" stroke="#138a1e" stroke-width="1.5999999999999999" stroke-linejoin="miter"/>
<path d="M414.35 352.61L423.55 352.61L418.95 359.61Z" fill="none" stroke="#138a1e" stroke-width="1.5999999999999999" stroke-linejoin="miter"/>
<path d="M423.68 352.68L432.88 352.68L428.28 359.68Z" fill="none" stroke="#138a1e" stroke-width="1.5999999999999999" stroke-linejoin="miter"/>
<path d="M433.01 352.75L442.21 352.75L437.61 359.75Z" fill="none" stroke="#138a1e" stroke-width="1.5999999999999999" stroke-linejoin="miter"/>
<path d="M442.34 352.82L451.54 352.82L446.94 359.82Z" fill="none" stroke="#138a1e" stroke-width="1.5999999999999999" stroke-linejoin="miter"/>
<path d="M451.68 352.90L460.88 352.90L456.28 359.90Z" fill="none" stroke="#138a1e" stroke-width="1.5999999999999999" stroke-linejoin="miter"/>
<path d="M461.01 352.97L470.21 352.97L465.61 359.97Z" fill="none" stroke="#138a1e" stroke-width="1.5999999999999999" stroke-linejoin="miter"/>
<path d="M470.34 353.03L479.54 353.03L474.94 360.03Z" fill="none" stroke="#138a1e" stroke-width="1.5999999999999999" stroke-linejoin="miter"/>
<path d="M479.67 353.10L488.87 353.10L484.27 360.10Z" fill="none" stroke="#138a1e" stroke-width="1.5999999999999999" stroke-linejoin="miter"/>
<path d="M489.00 353.17L498.20 353.17L493.60 360.17Z" fill="none" stroke="#138a1e" stroke-width="1.5999999999999999" stroke-linejoin="miter"/>
<path d="M498.34 353.23L507.54 353.23L502.94 360.23Z" fill="none" stroke="#138a1e" stroke-width="1.5999999999999999" stroke-linejoin="miter"/>
<path d="M507.67 353.30L516.87 353.30L512.27 360.30Z" fill="none" stroke="#138a1e" stroke-width="1.5999999999999999" stroke-linejoin="miter"/>
<path d="M517.00 353.37L526.20 353.37L521.60 360.37Z" fill="none" stroke="#138a1e" stroke-width="1.5999999999999999" stroke-linejoin="miter"/>
</g>
<g><polyline points="64.33,113.00 73.66,335.00 83.00,337.50 92.33,337.70 101.66,338.00 110.99,338.50 120.32,338.75 129.66,339.00 138.99,339.30 148.32,339.60 157.65,340.00 166.98,340.40 176.32,340.85 185.65,341.30 194.98,341.90 204.31,342.50 213.64,342.93 222.98,343.35 232.31,343.77 241.64,344.20 250.97,344.65 260.30,345.10 269.64,345.55 278.97,346.00 288.30,346.35 297.63,346.70 306.96,347.14 316.30,347.58 325.63,348.02 334.96,348.46 344.29,348.90 353.62,349.38 362.96,349.87 372.29,350.35 381.62,350.83 390.95,351.32 400.28,351.80 409.62,352.40 418.95,353.00 428.28,353.46 437.61,353.92 446.94,354.38 456.28,354.84 465.61,355.30 474.94,355.53 484.27,355.77 493.60,356.00 502.94,356.23 512.27,356.47 521.60,356.70" fill="none" stroke="#ecb22a" stroke-width="1.45" stroke-linejoin="round"/>
<rect x="61.33" y="110.00" width="6.00" height="6.00" fill="none" stroke="#ecb22a" stroke-width="1.5999999999999999" stroke-linejoin="miter"/>
<rect x="70.66" y="332.00" width="6.00" height="6.00" fill="none" stroke="#ecb22a" stroke-width="1.5999999999999999" stroke-linejoin="miter"/>
<rect x="80.00" y="334.50" width="6.00" height="6.00" fill="none" stroke="#ecb22a" stroke-width="1.5999999999999999" stroke-linejoin="miter"/>
<rect x="89.33" y="334.70" width="6.00" height="6.00" fill="none" stroke="#ecb22a" stroke-width="1.5999999999999999" stroke-linejoin="miter"/>
<rect x="98.66" y="335.00" width="6.00" height="6.00" fill="none" stroke="#ecb22a" stroke-width="1.5999999999999999" stroke-linejoin="miter"/>
<rect x="107.99" y="335.50" width="6.00" height="6.00" fill="none" stroke="#ecb22a" stroke-width="1.5999999999999999" stroke-linejoin="miter"/>
<rect x="117.32" y="335.75" width="6.00" height="6.00" fill="none" stroke="#ecb22a" stroke-width="1.5999999999999999" stroke-linejoin="miter"/>
<rect x="126.66" y="336.00" width="6.00" height="6.00" fill="none" stroke="#ecb22a" stroke-width="1.5999999999999999" stroke-linejoin="miter"/>
<rect x="135.99" y="336.30" width="6.00" height="6.00" fill="none" stroke="#ecb22a" stroke-width="1.5999999999999999" stroke-linejoin="miter"/>
<rect x="145.32" y="336.60" width="6.00" height="6.00" fill="none" stroke="#ecb22a" stroke-width="1.5999999999999999" stroke-linejoin="miter"/>
<rect x="154.65" y="337.00" width="6.00" height="6.00" fill="none" stroke="#ecb22a" stroke-width="1.5999999999999999" stroke-linejoin="miter"/>
<rect x="163.98" y="337.40" width="6.00" height="6.00" fill="none" stroke="#ecb22a" stroke-width="1.5999999999999999" stroke-linejoin="miter"/>
<rect x="173.32" y="337.85" width="6.00" height="6.00" fill="none" stroke="#ecb22a" stroke-width="1.5999999999999999" stroke-linejoin="miter"/>
<rect x="182.65" y="338.30" width="6.00" height="6.00" fill="none" stroke="#ecb22a" stroke-width="1.5999999999999999" stroke-linejoin="miter"/>
<rect x="191.98" y="338.90" width="6.00" height="6.00" fill="none" stroke="#ecb22a" stroke-width="1.5999999999999999" stroke-linejoin="miter"/>
<rect x="201.31" y="339.50" width="6.00" height="6.00" fill="none" stroke="#ecb22a" stroke-width="1.5999999999999999" stroke-linejoin="miter"/>
<rect x="210.64" y="339.93" width="6.00" height="6.00" fill="none" stroke="#ecb22a" stroke-width="1.5999999999999999" stroke-linejoin="miter"/>
<rect x="219.98" y="340.35" width="6.00" height="6.00" fill="none" stroke="#ecb22a" stroke-width="1.5999999999999999" stroke-linejoin="miter"/>
<rect x="229.31" y="340.77" width="6.00" height="6.00" fill="none" stroke="#ecb22a" stroke-width="1.5999999999999999" stroke-linejoin="miter"/>
<rect x="238.64" y="341.20" width="6.00" height="6.00" fill="none" stroke="#ecb22a" stroke-width="1.5999999999999999" stroke-linejoin="miter"/>
<rect x="247.97" y="341.65" width="6.00" height="6.00" fill="none" stroke="#ecb22a" stroke-width="1.5999999999999999" stroke-linejoin="miter"/>
<rect x="257.30" y="342.10" width="6.00" height="6.00" fill="none" stroke="#ecb22a" stroke-width="1.5999999999999999" stroke-linejoin="miter"/>
<rect x="266.64" y="342.55" width="6.00" height="6.00" fill="none" stroke="#ecb22a" stroke-width="1.5999999999999999" stroke-linejoin="miter"/>
<rect x="275.97" y="343.00" width="6.00" height="6.00" fill="none" stroke="#ecb22a" stroke-width="1.5999999999999999" stroke-linejoin="miter"/>
<rect x="285.30" y="343.35" width="6.00" height="6.00" fill="none" stroke="#ecb22a" stroke-width="1.5999999999999999" stroke-linejoin="miter"/>
<rect x="294.63" y="343.70" width="6.00" height="6.00" fill="none" stroke="#ecb22a" stroke-width="1.5999999999999999" stroke-linejoin="miter"/>
<rect x="303.96" y="344.14" width="6.00" height="6.00" fill="none" stroke="#ecb22a" stroke-width="1.5999999999999999" stroke-linejoin="miter"/>
<rect x="313.30" y="344.58" width="6.00" height="6.00" fill="none" stroke="#ecb22a" stroke-width="1.5999999999999999" stroke-linejoin="miter"/>
<rect x="322.63" y="345.02" width="6.00" height="6.00" fill="none" stroke="#ecb22a" stroke-width="1.5999999999999999" stroke-linejoin="miter"/>
<rect x="331.96" y="345.46" width="6.00" height="6.00" fill="none" stroke="#ecb22a" stroke-width="1.5999999999999999" stroke-linejoin="miter"/>
<rect x="341.29" y="345.90" width="6.00" height="6.00" fill="none" stroke="#ecb22a" stroke-width="1.5999999999999999" stroke-linejoin="miter"/>
<rect x="350.62" y="346.38" width="6.00" height="6.00" fill="none" stroke="#ecb22a" stroke-width="1.5999999999999999" stroke-linejoin="miter"/>
<rect x="359.96" y="346.87" width="6.00" height="6.00" fill="none" stroke="#ecb22a" stroke-width="1.5999999999999999" stroke-linejoin="miter"/>
<rect x="369.29" y="347.35" width="6.00" height="6.00" fill="none" stroke="#ecb22a" stroke-width="1.5999999999999999" stroke-linejoin="miter"/>
<rect x="378.62" y="347.83" width="6.00" height="6.00" fill="none" stroke="#ecb22a" stroke-width="1.5999999999999999" stroke-linejoin="miter"/>
<rect x="387.95" y="348.32" width="6.00" height="6.00" fill="none" stroke="#ecb22a" stroke-width="1.5999999999999999" stroke-linejoin="miter"/>
<rect x="397.28" y="348.80" width="6.00" height="6.00" fill="none" stroke="#ecb22a" stroke-width="1.5999999999999999" stroke-linejoin="miter"/>
<rect x="406.62" y="349.40" width="6.00" height="6.00" fill="none" stroke="#ecb22a" stroke-width="1.5999999999999999" stroke-linejoin="miter"/>
<rect x="415.95" y="350.00" width="6.00" height="6.00" fill="none" stroke="#ecb22a" stroke-width="1.5999999999999999" stroke-linejoin="miter"/>
<rect x="425.28" y="350.46" width="6.00" height="6.00" fill="none" stroke="#ecb22a" stroke-width="1.5999999999999999" stroke-linejoin="miter"/>
<rect x="434.61" y="350.92" width="6.00" height="6.00" fill="none" stroke="#ecb22a" stroke-width="1.5999999999999999" stroke-linejoin="miter"/>
<rect x="443.94" y="351.38" width="6.00" height="6.00" fill="none" stroke="#ecb22a" stroke-width="1.5999999999999999" stroke-linejoin="miter"/>
<rect x="453.28" y="351.84" width="6.00" height="6.00" fill="none" stroke="#ecb22a" stroke-width="1.5999999999999999" stroke-linejoin="miter"/>
<rect x="462.61" y="352.30" width="6.00" height="6.00" fill="none" stroke="#ecb22a" stroke-width="1.5999999999999999" stroke-linejoin="miter"/>
<rect x="471.94" y="352.53" width="6.00" height="6.00" fill="none" stroke="#ecb22a" stroke-width="1.5999999999999999" stroke-linejoin="miter"/>
<rect x="481.27" y="352.77" width="6.00" height="6.00" fill="none" stroke="#ecb22a" stroke-width="1.5999999999999999" stroke-linejoin="miter"/>
<rect x="490.60" y="353.00" width="6.00" height="6.00" fill="none" stroke="#ecb22a" stroke-width="1.5999999999999999" stroke-linejoin="miter"/>
<rect x="499.94" y="353.23" width="6.00" height="6.00" fill="none" stroke="#ecb22a" stroke-width="1.5999999999999999" stroke-linejoin="miter"/>
<rect x="509.27" y="353.47" width="6.00" height="6.00" fill="none" stroke="#ecb22a" stroke-width="1.5999999999999999" stroke-linejoin="miter"/>
<rect x="518.60" y="353.70" width="6.00" height="6.00" fill="none" stroke="#ecb22a" stroke-width="1.5999999999999999" stroke-linejoin="miter"/>
</g>
<rect x="396.6" y="39.5" width="111.90" height="98.90" fill="#fff" stroke="#484848" stroke-width="0.9"/>
<path d="M400.2 50.80H430" stroke="#22389d" stroke-width="1.45" fill="none"/>
<path d="M415.00 45.60L419.00 50.80L415.00 56.00L411.00 50.80Z" fill="none" stroke="#22389d" stroke-width="1.5999999999999999" stroke-linejoin="miter"/>
<text x="432.9" y="56.40" font-size="15.7" style="fill:#000;stroke:#000">MVO</text>
<path d="M400.2 69.95H430" stroke="#ff0000" stroke-width="1.45" fill="none"/>
<path d="M412.67 65.65L419.67 69.95L412.67 74.25Z" fill="none" stroke="#ff0000" stroke-width="1.5999999999999999" stroke-linejoin="miter"/>
<text x="432.9" y="75.55" font-size="15.7" style="fill:#000;stroke:#000">DLMVO</text>
<path d="M400.2 89.10H430" stroke="#8a3aa3" stroke-width="1.45" fill="none"/>
<circle cx="415.00" cy="89.10" r="4.0" fill="none" stroke="#8a3aa3" stroke-width="1.5999999999999999" stroke-linejoin="miter"/>
<text x="432.9" y="94.70" font-size="15.7" style="fill:#000;stroke:#000">DLMVO-1</text>
<path d="M400.2 108.25H430" stroke="#138a1e" stroke-width="1.45" fill="none"/>
<path d="M410.40 105.92L419.60 105.92L415.00 112.92Z" fill="none" stroke="#138a1e" stroke-width="1.5999999999999999" stroke-linejoin="miter"/>
<text x="432.9" y="113.85" font-size="15.7" style="fill:#000;stroke:#000">DLMVO-2</text>
<path d="M400.2 127.40H430" stroke="#ecb22a" stroke-width="1.45" fill="none"/>
<rect x="412.00" y="124.40" width="6.00" height="6.00" fill="none" stroke="#ecb22a" stroke-width="1.5999999999999999" stroke-linejoin="miter"/>
<text x="432.9" y="133.00" font-size="15.7" style="fill:#000;stroke:#000">DLMVO-3</text>
</svg>
</body></html>
